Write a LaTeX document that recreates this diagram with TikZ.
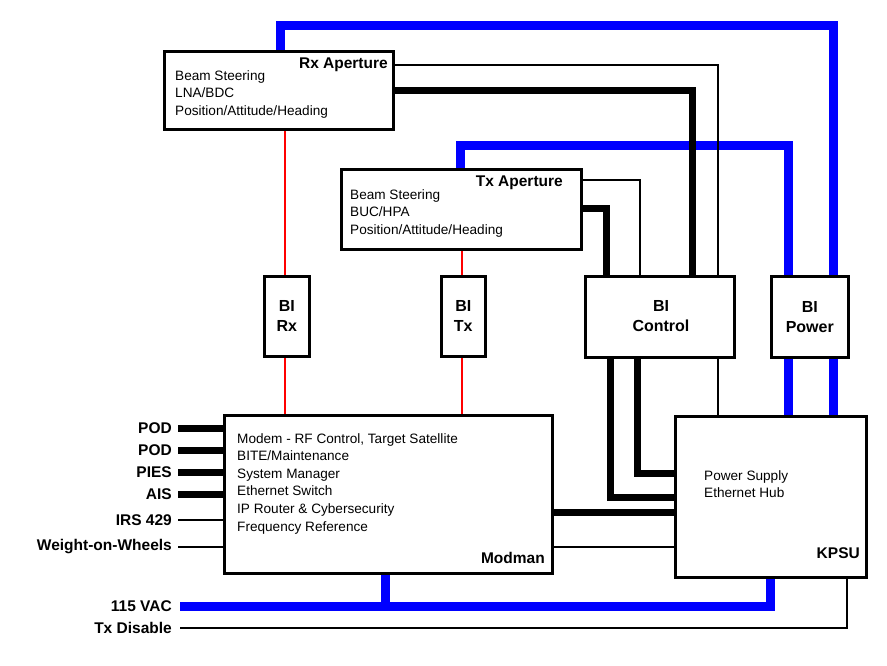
\documentclass[tikz,border=0pt]{standalone}
\usepackage{fontspec}
\setmainfont{Liberation Sans}
\begin{document}
\begin{tikzpicture}[x=1pt,y=-1pt,
  box/.style={draw,line width=2.6pt,fill=white,anchor=north west,inner sep=0pt},
  thin/.style={line width=2.8pt},
  thick6/.style={line width=7pt},
  pwr/.style={line width=9pt,blue},
  sig/.style={line width=2.4pt,red},
  lbl/.style={font=\fontsize{15.5}{17}\selectfont\bfseries,anchor=east,inner sep=0pt},
  bi/.style={font=\fontsize{16}{20}\selectfont\bfseries,align=center},
  body/.style={font=\fontsize{13.6}{17.6}\selectfont,align=left,anchor=north west,inner sep=0pt}]
\useasboundingbox (0,0) rectangle (887,665);
\node[box,minimum width=229pt,minimum height=78pt] (rx) at (163,50) {};
\node[box,minimum width=240pt,minimum height=80pt] (tx) at (340,168) {};
\node[box,minimum width=45pt,minimum height=80pt] (birx) at (263,275) {};
\node[box,minimum width=44pt,minimum height=80pt] (bitx) at (440,275) {};
\node[box,minimum width=149pt,minimum height=81pt] (bic) at (584,275) {};
\node[box,minimum width=77pt,minimum height=81pt] (bip) at (770,275) {};
\node[box,minimum width=328pt,minimum height=158pt] (mod) at (223,414) {};
\node[box,minimum width=191pt,minimum height=161pt] (kpsu) at (674,415) {};
\coordinate (vac) at (180,606);
\coordinate (txd) at (180,628);
\draw[sig] (rx.south -| 285,0) -- (birx.north -| 285,0);
\draw[sig] (birx.south -| 285,0) -- (mod.north -| 285,0);
\draw[sig] (tx.south -| 462,0) -- (bitx.north -| 462,0);
\draw[sig] (bitx.south -| 462,0) -- (mod.north -| 462,0);
\draw[pwr] (rx.north -| 280,0) -- (280,25) -- (833,25) -- (bip.north -| 833,0);
\draw[pwr] (bip.south -| 833,0) -- (kpsu.north -| 833,0);
\draw[pwr] (tx.north -| 460,0) -- (460,145) -- (788,145) -- (bip.north -| 788,0);
\draw[pwr] (bip.south -| 788,0) -- (kpsu.north -| 788,0);
\draw[pwr] (vac) -- (770,606) -- (kpsu.south -| 770,0);
\draw[pwr] (mod.south -| 385,0) -- (385,606);
\draw[thin] (rx.east |- 0,65) -- (718,65) -- (bic.north -| 718,0);
\draw[thin] (bic.south -| 718,0) -- (kpsu.north -| 718,0);
\draw[thick6] (rx.east |- 0,90) -- (692,90) -- (bic.north -| 692,0);
\draw[thin] (tx.east |- 0,180) -- (640,180) -- (bic.north -| 640,0);
\draw[thick6] (tx.east |- 0,208) -- (606,208) -- (bic.north -| 606,0);
\draw[thick6] (bic.south -| 610,0) -- (610,497) -- (kpsu.west |- 0,497);
\draw[thick6] (bic.south -| 637,0) -- (637,473) -- (kpsu.west |- 0,473);
\draw[thick6] (mod.east |- 0,512) -- (kpsu.west |- 0,512);
\draw[thin] (mod.east |- 0,547) -- (kpsu.west |- 0,547);
\draw[thin] (txd) -- (847,628) -- (kpsu.south -| 847,0);
% redraw boxes on top of connector ends
\node[box,minimum width=229pt,minimum height=78pt] at (163,50) {};
\node[box,minimum width=240pt,minimum height=80pt] at (340,168) {};
\node[box,minimum width=45pt,minimum height=80pt] at (263,275) {};
\node[box,minimum width=44pt,minimum height=80pt] at (440,275) {};
\node[box,minimum width=149pt,minimum height=81pt] at (584,275) {};
\node[box,minimum width=77pt,minimum height=81pt] at (770,275) {};
\node[box,minimum width=328pt,minimum height=158pt] at (223,414) {};
\node[box,minimum width=191pt,minimum height=161pt] at (674,415) {};
\node[lbl] (rxt) at (388,65) {Rx Aperture};
\node[body] (rxb) at (175,70) {Beam Steering\\LNA/BDC\\Position/Attitude/Heading};
\node[lbl] (txt) at (563,183) {Tx Aperture};
\node[body] (txb) at (350,189) {Beam Steering\\BUC/HPA\\Position/Attitude/Heading};
\node[bi] (birxt) at (birx.center) {BI\\Rx};
\node[bi] (bitxt) at (bitx.center) {BI\\Tx};
\node[bi] (bict) at (661,316) {BI\\Control};
\node[bi] (bipt) at (bip.center) {BI\\Power};
\node[body] (modb) at (237,433) {Modem - RF Control, Target Satellite\\BITE/Maintenance\\System Manager\\Ethernet Switch\\IP Router \& Cybersecurity\\Frequency Reference};
\node[lbl] (modt) at (545,558) {Modman};
\node[body] (kb) at (704,470) {Power Supply\\Ethernet Hub};
\node[lbl] (kt) at (860,553) {KPSU};
\foreach \y/\t/\s [count=\i] in {428/POD/thick6,450/POD/thick6,472/PIES/thick6,494/AIS/thick6,520/IRS 429/thin,547/Weight-on-Wheels/thin}{
  \node[lbl] (in\i) at (172,\y) {\t};
  \draw[\s] (178,\y) -- (mod.west |- 0,\y);
}
\node[lbl] (vact) at (172,606) {115 VAC};
\node[lbl] (txdt) at (172,628) {Tx Disable};
\end{tikzpicture}
\end{document}
